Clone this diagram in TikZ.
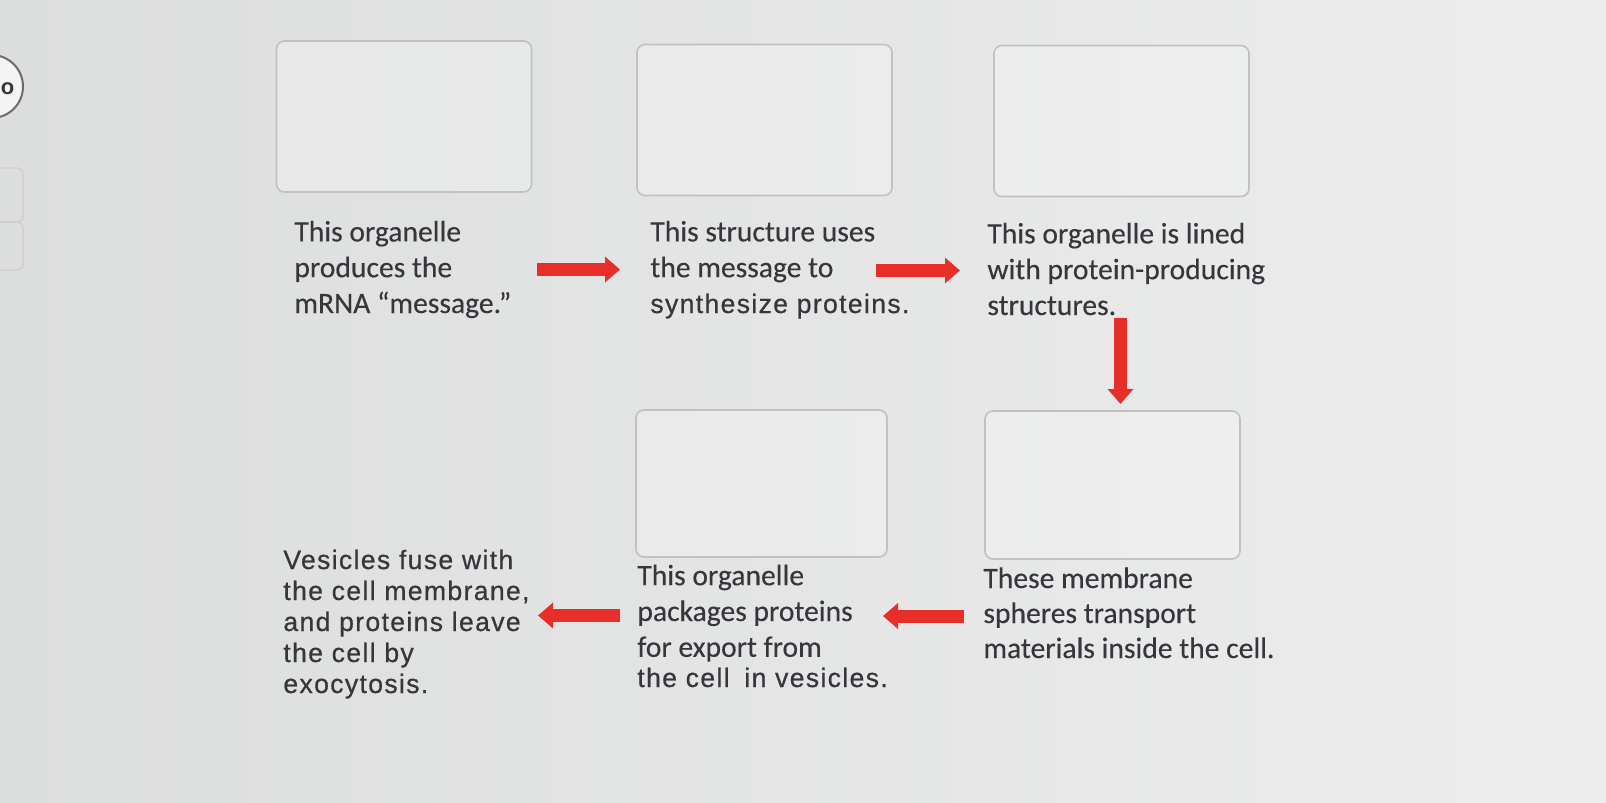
\documentclass[tikz,border=0pt]{standalone}
\usepackage{fontspec}
\setmainfont{Carlito}[FakeBold=0.25]
\newfontfamily\arialish{Liberation Sans}
\newfontfamily\arialsp[LetterSpace=5,FakeBold=0.6]{Liberation Sans}
\usetikzlibrary{positioning,arrows.meta}

\definecolor{bgl}{RGB}{220,222,221}
\definecolor{bgr}{RGB}{236,237,236}
\definecolor{boxline}{RGB}{192,193,192}
\definecolor{tabline}{RGB}{205,206,205}
\definecolor{ink}{RGB}{54,54,60}
\definecolor{arrowred}{RGB}{232,46,40}

\newcommand\calibtext{\fontsize{14.8pt}{17.9pt}\selectfont}
\newcommand\arialtext{\arialsp\fontsize{13.3pt}{15.5pt}\selectfont}

\begin{document}
\begin{tikzpicture}[x=0.5pt,y=-0.5pt]
\shade[left color=bgl,right color=bgr] (0,0) rectangle (1606,803);
\useasboundingbox (0,0) rectangle (1606,803);

\tikzstyle{box}=[draw=boxline,line width=0.8pt,rounded corners=4pt,fill=white,fill opacity=0.25,
  minimum width=127.5pt,minimum height=75.5pt,inner sep=0pt]
\tikzstyle{txt}=[text=ink,align=left,inner sep=0pt,anchor=base west,font=\calibtext]
\tikzstyle{flow}=[draw=arrowred,line width=6.5pt,-{Triangle[length=7.5pt,width=12.5pt]}]

% cut-off bits at the left edge
\node[circle,draw=gray!85!black,line width=1pt,fill=white!40!bgr,minimum size=31.5pt,inner sep=0pt] (tab) at (-8.5,86.5) {};
\node[text=ink,font=\arialish\bfseries\fontsize{11pt}{13pt}\selectfont,inner sep=0pt] (tabo) at (7.5,89) {o};
\draw[tabline,line width=0.7pt,rounded corners=3pt] (-10,168) rectangle (23,222);
\draw[tabline,line width=0.7pt,rounded corners=3pt] (-10,222) rectangle (23,270);

% empty answer boxes
\draw node foreach \n/\x/\y in {1/404/116.5,2/764.5/120,3/1121.5/121} [box] (b\n) at (\x,\y) {};
\draw node[box,minimum width=125.5pt,minimum height=73.5pt] (b4) at (761.5,483.5) {};
\draw node[box,minimum height=74pt] (b5) at (1112.5,485) {};

% clues (placed on the baseline of their last line)
\node[txt] (t1) at (294,313) {This organelle\\produces the\\mRNA “message.”};
\node[txt] (t2) at (650,313) {This structure uses\\the message to\\{\arialtext synthesize proteins.}};
\node[txt] (t3) at (987,315) {This organelle is lined\\with protein-producing\\structures.};
\node[txt,font=\arialtext] (t4) at (283,693) {Vesicles fuse with\\the cell membrane,\\and proteins leave\\the cell by\\exocytosis.};
\node[txt] (t5) at (637,687) {This organelle\\packages proteins\\for export from\\[-2.8pt]{\arialtext the cell\hspace{3pt} in vesicles.}};
\node[txt,font=\fontsize{14.8pt}{17.5pt}\selectfont] (t6) at (983,658) {These membrane\\spheres transport\\materials inside the cell.};

% arrows
\coordinate (a1s) at (537,269.5);  \coordinate (a1e) at (620,269.5);
\coordinate (a2s) at (876,270.5);  \coordinate (a2e) at (960,270.5);
\coordinate (a3s) at (1120.5,318); \coordinate (a3e) at (1120.5,404);
\coordinate (a4s) at (620,615.5);  \coordinate (a4e) at (538,615.5);
\coordinate (a5s) at (964,616);    \coordinate (a5e) at (883,616);
\draw[flow] (a1s) -- (a1e);
\draw[flow] (a2s) -- (a2e);
\draw[flow] (a3s) -- (a3e);
\draw[flow] (a5s) -- (a5e);
\draw[flow] (a4s) -- (a4e);
\end{tikzpicture}
\end{document}
